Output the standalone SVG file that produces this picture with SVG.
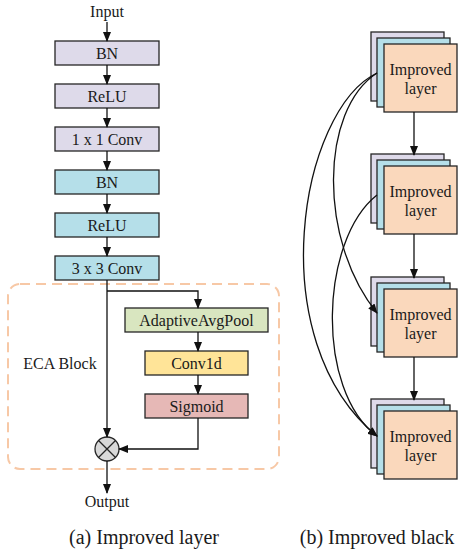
<svg xmlns="http://www.w3.org/2000/svg" width="462" height="550" viewBox="0 0 462 550">
<style>
text{font-family:"Liberation Serif","Times New Roman",serif;fill:#1a1a1a;font-size:16px;text-anchor:middle}
.box{stroke:#262626;stroke-width:1.3}
.p{fill:#DEDAEA}.b{fill:#B5DFE9}.g{fill:#D9E6C0}.y{fill:#FFE498}.r{fill:#E6B8B6}.o{fill:#FAD8BC}
.ln{fill:none;stroke:#111;stroke-width:1.3}
.cap{font-size:20px}
</style>
<defs>
<marker id="ar" markerWidth="10" markerHeight="8" refX="9" refY="4" orient="auto" markerUnits="userSpaceOnUse">
<path d="M0,0 L10,4 L0,8 Z" fill="#111"/>
</marker>
</defs>
<rect x="8" y="284" width="271" height="185" rx="12" fill="none" stroke="#F7C8A6" stroke-width="2" stroke-dasharray="10,6"/>
<text x="60" y="369">ECA Block</text>
<text x="107" y="17">Input</text>
<g id="bn1"><rect class="box p" x="55" y="41" width="104" height="24"/><text x="107" y="59">BN</text></g>
<g id="relu1"><rect class="box p" x="55" y="84" width="104" height="24"/><text x="107" y="102">ReLU</text></g>
<g id="conv1"><rect class="box p" x="55" y="127" width="104" height="24"/><text x="107" y="145">1 x 1 Conv</text></g>
<g id="bn2"><rect class="box b" x="55" y="170" width="104" height="24"/><text x="107" y="188">BN</text></g>
<g id="relu2"><rect class="box b" x="55" y="213" width="104" height="24"/><text x="107" y="231">ReLU</text></g>
<g id="conv3"><rect class="box b" x="55" y="256" width="104" height="24"/><text x="107" y="274">3 x 3 Conv</text></g>
<g id="pool"><rect class="box g" x="125" y="308" width="143" height="24"/><text x="196.5" y="326">AdaptiveAvgPool</text></g>
<g id="conv1d"><rect class="box y" x="145" y="351" width="103" height="24"/><text x="196.5" y="369">Conv1d</text></g>
<g id="sigmoid"><rect class="box r" x="145" y="394" width="103" height="24"/><text x="196.5" y="412">Sigmoid</text></g>
<g id="mult">
<circle cx="107" cy="449" r="12" fill="#D9D9D9" stroke="#262626" stroke-width="1.3"/>
<path d="M98.5,440.5 L115.5,457.5 M115.5,440.5 L98.5,457.5" stroke="#262626" stroke-width="1.3"/>
</g>
<text x="107" y="507">Output</text>
<text class="cap" x="144" y="544">(a) Improved layer</text>

<g id="stack1">
<rect class="box p" x="371" y="32" width="73" height="69"/>
<rect class="box b" x="377" y="38" width="73" height="69"/>
<rect class="box o" x="384" y="44" width="73" height="68"/>
<text x="420.5" y="75">Improved</text><text x="420.5" y="94">layer</text>
</g>
<g id="stack2">
<rect class="box p" x="371" y="154" width="73" height="69"/>
<rect class="box b" x="377" y="160" width="73" height="69"/>
<rect class="box o" x="384" y="166" width="73" height="68"/>
<text x="420.5" y="197">Improved</text><text x="420.5" y="216">layer</text>
</g>
<g id="stack3">
<rect class="box p" x="371" y="277" width="73" height="69"/>
<rect class="box b" x="377" y="283" width="73" height="69"/>
<rect class="box o" x="384" y="289" width="73" height="68"/>
<text x="420.5" y="320">Improved</text><text x="420.5" y="339">layer</text>
</g>
<g id="stack4">
<rect class="box p" x="371" y="399" width="73" height="69"/>
<rect class="box b" x="377" y="405" width="73" height="69"/>
<rect class="box o" x="384" y="411" width="73" height="68"/>
<text x="420.5" y="442">Improved</text><text x="420.5" y="461">layer</text>
</g>
<text class="cap" x="377" y="544">(b) Improved black</text>

<g id="connectors">
<path class="ln" d="M107,22 V41" marker-end="url(#ar)"/>
<path class="ln" d="M107,65 V84" marker-end="url(#ar)"/>
<path class="ln" d="M107,108 V127" marker-end="url(#ar)"/>
<path class="ln" d="M107,151 V170" marker-end="url(#ar)"/>
<path class="ln" d="M107,194 V213" marker-end="url(#ar)"/>
<path class="ln" d="M107,237 V256" marker-end="url(#ar)"/>
<path class="ln" d="M107,280 V437" marker-end="url(#ar)"/>
<path class="ln" d="M107,291 H198 V308" marker-end="url(#ar)"/>
<path class="ln" d="M198,332 V351" marker-end="url(#ar)"/>
<path class="ln" d="M198,375 V394" marker-end="url(#ar)"/>
<path class="ln" d="M198,418 V449 H119" marker-end="url(#ar)"/>
<path class="ln" d="M107,461 V493" marker-end="url(#ar)"/>
<path class="ln" d="M414,112 V155" marker-end="url(#ar)"/>
<path class="ln" d="M414,234 V278" marker-end="url(#ar)"/>
<path class="ln" d="M414,357 V400" marker-end="url(#ar)"/>
<path class="ln" d="M377,73 C320,110 318,240 377,313" marker-end="url(#ar)"/>
<path class="ln" d="M377,73 C300,110 260,340 377,436" marker-end="url(#ar)"/>
<path class="ln" d="M377,195 C320,240 315,390 377,436" marker-end="url(#ar)"/>
</g>
</svg>
